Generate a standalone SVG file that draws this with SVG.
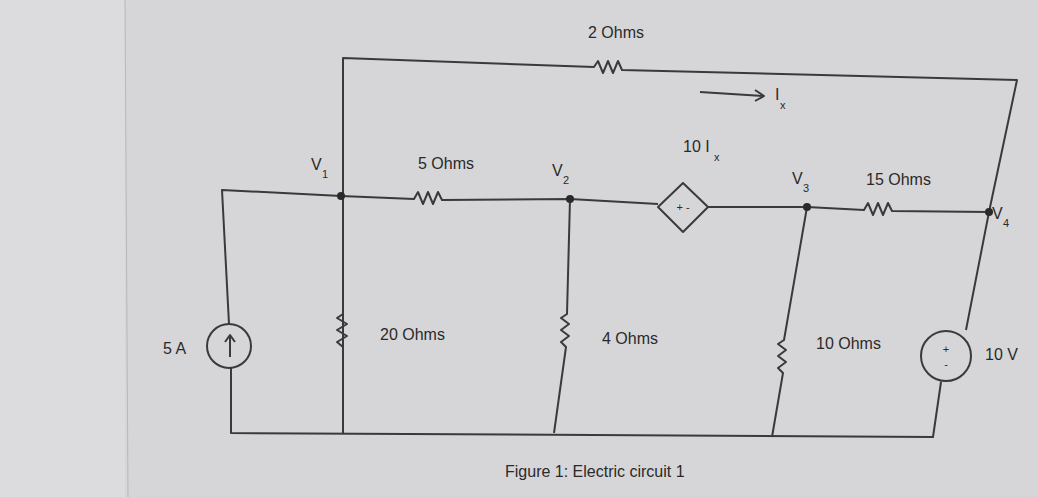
<svg xmlns="http://www.w3.org/2000/svg" width="1038" height="497" viewBox="0 0 1038 497">
<style>
.w{fill:none;stroke:#3a3a3a;stroke-width:2;stroke-linejoin:round}
.t{font-family:"Liberation Sans",Arial,sans-serif;font-size:16px;fill:#2a2a2a}
.s{font-family:"Liberation Sans",Arial,sans-serif;font-size:11px;fill:#2a2a2a}
.d{fill:#2a2a2a}
</style>
<rect width="1038" height="497" fill="#d6d6d8"/>
<rect width="125" height="497" fill="#dcdcde"/>
<line x1="125" y1="0" x2="128" y2="497" stroke="#b8b8b8"/>
<g id="connectors">
<path class="w" d="M343,433 L343,58 L594,67 L598,61 L603,73 L608,61 L613,73 L618,61 L622,70 L1017,80 L989,212 L966,330"/>
<path class="w" d="M229,324 L222,190 L341,196 L414,199 L418,192 L423,204 L428,192 L433,204 L438,192 L442,200 L570,199 L658,204"/>
<path class="w" d="M708,207 L807,207 L864,210 L868,203 L873,215 L878,203 L883,215 L888,203 L892,211 L989,212"/>
<path class="w" d="M231,368 L231,433 L933,437 L941,382"/>
<path class="w" d="M570,199 L567,314 L561,318 L569,324 L561,330 L569,336 L561,342 L566,347 L554,433"/>
<path class="w" d="M343,314 L337,318 L347,324 L337,330 L347,336 L337,342 L343,347"/>
<path class="w" d="M807,207 L784,340 L778,344 L786,350 L778,356 L786,362 L778,368 L783,373 L772,437"/>
<line class="w" x1="700" y1="92" x2="763" y2="96"/>
<path class="w" d="M755,90 L764,96 L755,101"/>
</g>
<g id="n_5A"><circle class="w" cx="229" cy="346" r="22" fill="#d6d6d8"/><path class="w" d="M230,357 L230,336 M225,342 L230,335 L235,342"/><text class="t" x="163" y="354">5 A</text></g>
<g id="n_V1"><circle class="d" cx="341" cy="196" r="4"/><text class="t" x="311" y="170">V</text><text class="s" x="322" y="178">1</text></g>
<g id="n_V2"><circle class="d" cx="570" cy="199" r="4"/><text class="t" x="552" y="176">V</text><text class="s" x="563" y="184">2</text></g>
<g id="n_V3"><circle class="d" cx="807" cy="207" r="4"/><text class="t" x="792" y="184">V</text><text class="s" x="803" y="192">3</text></g>
<g id="n_V4"><circle class="d" cx="989" cy="212" r="4"/><text class="t" x="992" y="219">V</text><text class="s" x="1003" y="227">4</text></g>
<g id="n_dep"><path class="w" d="M683,183 L708,207 L683,232 L658,207 Z" fill="#d6d6d8"/><text class="s" x="683" y="211" text-anchor="middle">+ -</text><text class="t" x="683" y="152">10 I</text><text class="s" x="714" y="161">x</text></g>
<g id="n_10V"><circle class="w" cx="946" cy="356" r="25" fill="#d6d6d8"/><text class="s" x="946" y="353" text-anchor="middle">+</text><text class="s" x="946" y="368" text-anchor="middle">-</text><text class="t" x="985" y="360">10 V</text></g>
<g id="labels">
<text class="t" x="588" y="38">2 Ohms</text>
<text class="t" x="418" y="169">5 Ohms</text>
<text class="t" x="866" y="185">15 Ohms</text>
<text class="t" x="380" y="340">20 Ohms</text>
<text class="t" x="602" y="344">4 Ohms</text>
<text class="t" x="816" y="349">10 Ohms</text>
<text class="t" x="775" y="100">I</text><text class="s" x="780" y="109">x</text>
<text class="t" x="505" y="477">Figure 1: Electric circuit 1</text>
</g>
</svg>
